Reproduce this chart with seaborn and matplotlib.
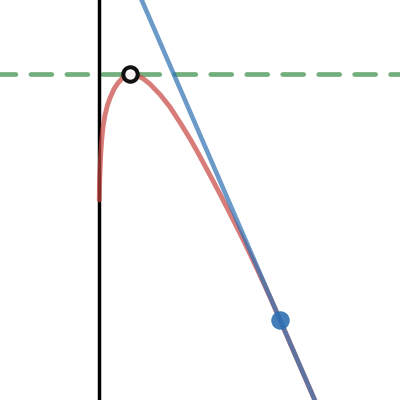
import matplotlib
matplotlib.use("Agg")
import matplotlib.pyplot as plt
import seaborn as sns
import pandas as pd

sns.set_theme(style="white")
plt.rcParams["lines.scale_dashes"] = False

# Curve (data units)
curve_x = [0.0, 0.006, 0.023, 0.045, 0.077, 0.119, 0.184, 0.265, 0.345, 0.474,
           0.603, 0.765, 1.006, 1.216, 1.410, 1.635, 1.958, 2.281, 2.635, 2.932,
           3.132, 3.394, 3.655, 3.910, 4.158, 4.403, 4.645, 4.877, 5.106, 5.329,
           5.548, 5.816, 6.194, 6.571, 6.990]
curve_y = [0.0, 0.118, 0.236, 0.354, 0.472, 0.575, 0.669, 0.748, 0.803, 0.874,
           0.921, 0.965, 0.992, 0.980, 0.957, 0.913, 0.831, 0.732, 0.598, 0.480,
           0.394, 0.276, 0.157, 0.039, -0.079, -0.197, -0.315, -0.433, -0.551, -0.669,
           -0.787, -0.937, -1.150, -1.362, -1.598]

# Tangent line endpoints
tan_x = [1.30, 7.00]
tan_y = [1.613, -1.604]

# Points
max_x = [1.0]
max_y = [0.99]
pt_x = [5.813]
pt_y = [-0.945]

# Horizontal reference level
level_y = 0.99

XLIM = (-3.203, 9.7)
YLIM = (-1.575, 1.575)

fig = plt.figure(figsize=(4, 4), dpi=100)
ax = fig.add_axes([0, 0, 1, 1])
ax.set_xlim(*XLIM)
ax.set_ylim(*YLIM)
ax.axis("off")

ax.axhline(level_y, color="#388c46", alpha=0.7, lw=3.4,
           linestyle=(4.0, (15.1, 10.8)), dash_capstyle="round", zorder=1)
ax.axvline(0, color="black", lw=2.5, zorder=2)

curve = pd.DataFrame({"x": curve_x, "y": curve_y})
sns.lineplot(data=curve, x="x", y="y", sort=False, estimator=None, ax=ax,
             color="#c74440", alpha=0.7, lw=3.5, solid_capstyle="round",
             solid_joinstyle="round", zorder=3)

tan = pd.DataFrame({"x": tan_x, "y": tan_y})
sns.lineplot(data=tan, x="x", y="y", sort=False, estimator=None, ax=ax,
             color="#2d70b3", alpha=0.7, lw=3.3, zorder=4)

ax.plot(pt_x, pt_y, "o", ms=13.3, color="#2d70b3", alpha=0.9, mew=0, zorder=5)
ax.plot(max_x, max_y, "o", ms=10.4, mfc=(1, 1, 1, 0.9), mec="#111111", mew=2.9, zorder=6)

ax.set_xlim(*XLIM)
ax.set_ylim(*YLIM)
ax.set_xlabel("")
ax.set_ylabel("")
fig.savefig("out.png", dpi=100)
